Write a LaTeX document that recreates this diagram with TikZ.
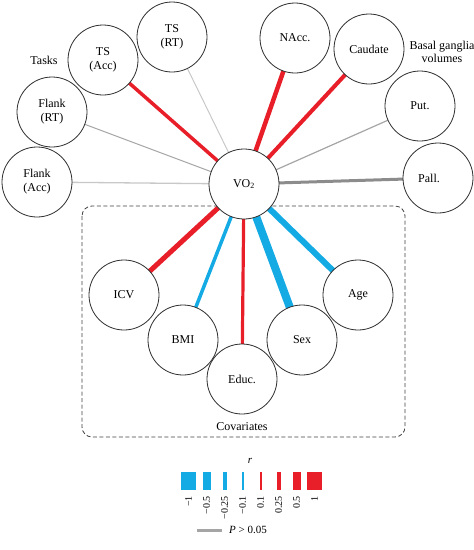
\documentclass[tikz,border=0pt]{standalone}
\usepackage{fontspec}
\setmainfont{Liberation Serif}
\usetikzlibrary{backgrounds}
\definecolor{cred}{RGB}{232,30,40}
\definecolor{cblue}{RGB}{20,170,228}
\definecolor{lgray}{RGB}{200,200,200}
\definecolor{mgray}{RGB}{165,165,165}
\definecolor{dgray}{RGB}{140,140,140}
\definecolor{edge}{RGB}{45,45,45}
\begin{document}
\begin{tikzpicture}[x=1pt,y=-1pt,
  circ/.style={circle,draw=edge,line width=0.8pt,fill=white,minimum size=70pt,inner sep=0pt,
    font=\fontsize{12}{14}\selectfont,align=center},
  lbl/.style={font=\fontsize{12}{13}\selectfont,align=center,inner sep=0pt},
  covbox/.style={draw=edge!90,dashed,dash pattern=on 4pt off 2.5pt,line width=0.8pt,rounded corners=10pt},
  redlink/.style={draw=cred},
  bluelink/.style={draw=cblue},
  bar/.style={rectangle,inner sep=0pt,minimum height=18pt},
  tick/.style={rotate=90,anchor=east,inner sep=0pt,font=\fontsize{10}{11}\selectfont},
]
\useasboundingbox (0,0) rectangle (474,550);

% covariates frame
\draw[covbox] (82,206) rectangle (405,437);

% nodes
\node[circ] (tsrt) at (172,37) {TS\\(RT)};
\node[circ] (tsacc) at (103,60) {TS\\(Acc)};
\node[circ] (flrt) at (52,112) {Flank\\(RT)};
\node[circ] (flacc) at (37,182) {Flank\\(Acc)};
\node[circ] (nacc) at (295,38) {NAcc.};
\node[circ] (caud) at (369,49) {Caudate};
\node[circ] (put) at (420,106) {Put.};
\node[circ] (pall) at (438,178) {};
\node[lbl] (pallt) at (429,178) {Pall.};
\node[circ] (vo) at (244,184) {VO\textsubscript{2}};
\node[circ] (icv) at (124,295) {ICV};
\node[circ] (bmi) at (183,340) {BMI};
\node[circ] (edu) at (242,379) {Educ.};
\node[circ] (sex) at (302,340) {Sex};
\node[circ] (age) at (358,295) {Age};

% group labels
\node[lbl] (tasks) at (44,60) {Tasks};
\node[lbl] (bg) at (442,52) {Basal ganglia\\volumes};
\node[lbl] (cov) at (242,427) {Covariates};

% links
\begin{pgfonlayer}{background}
\draw[redlink,line width=3.5pt] (vo.center) -- (tsacc.center);
\draw[draw=lgray,line width=1pt] (vo.center) -- (tsrt.center);
\draw[draw=mgray,line width=1pt] (vo.center) -- (flrt.center);
\draw[draw=lgray,line width=1.3pt] (vo.center) -- (flacc.center);
\draw[redlink,line width=4.5pt] (vo.center) -- (nacc.center);
\draw[redlink,line width=4pt] (vo.center) -- (caud.center);
\draw[draw=mgray,line width=1.2pt] (vo.center) -- (put.center);
\draw[draw=dgray,line width=3pt] (vo.center) -- (pall.center);
\draw[redlink,line width=5pt] (vo.center) -- (icv.center);
\draw[bluelink,line width=3.5pt] (vo.center) -- (bmi.center);
\draw[redlink,line width=3.2pt] (vo.center) -- (edu.center);
\draw[bluelink,line width=8pt] (vo.center) -- (sex.center);
\draw[bluelink,line width=6pt] (vo.center) -- (age.center);
\end{pgfonlayer}

% legend
\node[font=\fontsize{11}{12}\selectfont,inner sep=0pt] (rl) at (250,461) {\textit{r}};
\node[bar,fill=cblue,minimum width=15pt] (b1) at (188.5,481) {};
\node[bar,fill=cblue,minimum width=8pt] (b2) at (206.5,481) {};
\node[bar,fill=cblue,minimum width=4pt] (b3) at (224.5,481) {};
\node[bar,fill=cblue,minimum width=2pt] (b4) at (242.5,481) {};
\node[bar,fill=cred,minimum width=2pt] (b5) at (260.5,481) {};
\node[bar,fill=cred,minimum width=4pt] (b6) at (278.5,481) {};
\node[bar,fill=cred,minimum width=8pt] (b7) at (296.5,481) {};
\node[bar,fill=cred,minimum width=15pt] (b8) at (314.5,481) {};
\node[tick] (t1) at (188.5,496) {−1};
\node[tick] (t2) at (206.5,496) {−0.5};
\node[tick] (t3) at (224.5,496) {−0.25};
\node[tick] (t4) at (242.5,496) {−0.1};
\node[tick] (t5) at (260.5,496) {0.1};
\node[tick] (t6) at (278.5,496) {0.25};
\node[tick] (t7) at (296.5,496) {0.5};
\node[tick] (t8) at (314.5,496) {1};
\coordinate (pl1) at (197,530);
\coordinate (pl2) at (222,530);
\draw[draw=mgray,line width=3pt] (pl1) -- (pl2);
\node[anchor=west,inner sep=0pt,font=\fontsize{11}{12}\selectfont] (pt) at (229,530) {\textit{P} > 0.05};
\end{tikzpicture}
\end{document}
